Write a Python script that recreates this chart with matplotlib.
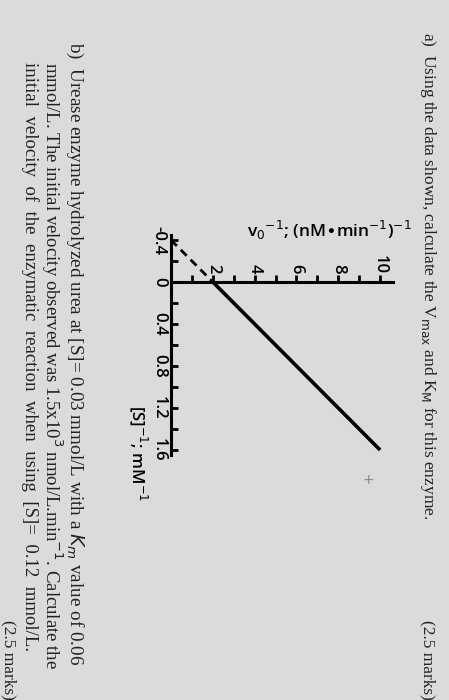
import matplotlib.pyplot as plt
import numpy as np

# Lineweaver-Burk plot, page photographed rotated 90 deg clockwise
inv_s_line = [0.0, 1.6]        # [S]^-1, mM^-1
inv_v_line = [2.0, 10.0]       # v0^-1
inv_s_dash = [-0.4, 0.0]
inv_v_dash = [0.0, 2.0]
v_ticks = [2, 4, 6, 8, 10]
s_ticks = [-0.4, 0, 0.4, 0.8, 1.2, 1.6]
s_ticklabels = ['-0.4', '0', '0.4', '0.8', '1.2', '1.6']

W, H = 449, 700
fig = plt.figure(figsize=(W / 100, H / 100), dpi=100)
fig.patch.set_facecolor('#d9dcd9')

def fx(px):
    return px / W

def fy(py):
    return 1 - py / H

ax = fig.add_axes([fx(171), fy(460.5), 230 / W, 225.75 / H])
ax.set_facecolor('none')
ax.set_xlim(0, 11)
ax.set_ylim(1.7, -0.45)
for s in ['right', 'bottom']:
    ax.spines[s].set_visible(False)
ax.spines['top'].set_position(('data', 0))
ax.spines['top'].set_bounds(0, 10.6)
ax.spines['left'].set_position(('data', 0))
ax.spines['left'].set_bounds(-0.45, 1.65)
for s in ['top', 'left']:
    ax.spines[s].set_linewidth(2.2)

ax.plot(inv_v_line, inv_s_line, color='black', lw=2.6, solid_capstyle='butt')
ax.plot(inv_v_dash, inv_s_dash, color='black', lw=2.0, ls=(0, (3, 2)))

ax.xaxis.tick_top()
ax.set_xticks(v_ticks)
ax.set_xticks(np.arange(1, 11, 1), minor=True)
ax.set_xticklabels([str(t) for t in v_ticks], rotation=-90, fontsize=12,
                   family='Open Sans', fontweight='semibold')
ax.tick_params(axis='x', which='both', direction='out', length=5, width=2, pad=1)
ax.set_yticks(s_ticks)
ax.set_yticks(np.arange(-0.4, 1.61, 0.2), minor=True)
ax.set_yticklabels(s_ticklabels, rotation=-90, fontsize=12, family='Open Sans',
                   fontweight='semibold', va='center')
ax.tick_params(axis='y', which='both', direction='in', length=5, width=2, pad=3)

fig.text(fx(247), fy(230), r'v$_0$$^{-1}$; (nM$\bullet$min$^{-1}$)$^{-1}$',
         fontsize=12.5, family='Open Sans', fontweight='semibold',
         ha='left', va='center')
fig.text(fx(138), fy(405), r'[S]$^{-1}$; mM$^{-1}$', fontsize=12,
         family='Open Sans', fontweight='semibold', rotation=-90,
         ha='center', va='top')

serif = 'Liberation Serif'
lines = [
    (428, 32, 'a)  Using the data shown, calculate the V$_{\\rm max}$ and K$_{\\rm M}$ for this enzyme.', 12.5),
    (428, 620, '(2.5 marks)', 12.5),
    (75, 42, 'b)  Urease enzyme hydrolyzed urea at [S]= 0.03 mmol/L with a $K_m$ value of 0.06', 13.8),
    (52, 62, 'mmol/L. The initial velocity observed was 1.5x10$^3$ nmol/L.min$^{-1}$. Calculate the', 13.5),
    (30, 62, 'initial  velocity  of  the  enzymatic  reaction  when  using  [S]=  0.12  mmol/L.', 13.5),
    (9, 620, '(2.5 marks)', 12.5),
]
for x, y, t, fs in lines:
    fig.text(fx(x), fy(y), t, fontsize=fs, family=serif, rotation=-90,
             ha='center', va='top', color='#222222')
fig.text(fx(368), fy(480), '+', fontsize=10, color='#888888', ha='center', va='center')

fig.savefig('out.png', dpi=100, facecolor=fig.get_facecolor())
